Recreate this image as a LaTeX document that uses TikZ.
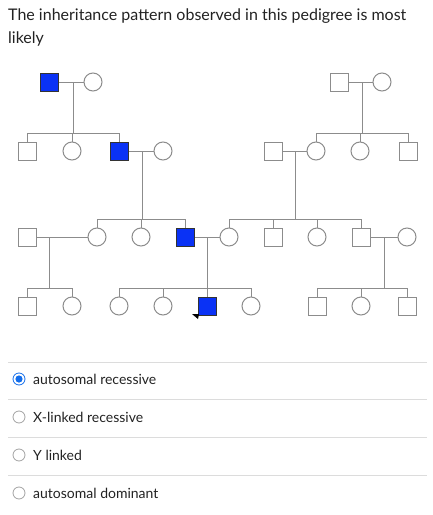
\documentclass[tikz,border=0pt]{standalone}
\usepackage{fontspec}
\setmainfont{Lato}
\usetikzlibrary{calc}
\definecolor{pline}{RGB}{140,140,140}
\definecolor{affblue}{RGB}{10,50,245}
\definecolor{sep}{RGB}{220,220,220}
\definecolor{txt}{RGB}{34,34,34}
\definecolor{radiob}{RGB}{20,110,235}
\tikzset{
  male/.style={draw=pline,line width=1pt,fill=white,rectangle,minimum size=18pt,inner sep=0pt},
  female/.style={draw=pline,line width=1pt,fill=white,circle,minimum size=18pt,inner sep=0pt},
  affected/.style={male,draw=black!80,fill=affblue},
  link/.style={draw=pline,line width=1pt},
  qtext/.style={anchor=base west,inner sep=0pt,text=txt,font=\fontsize{16}{19}\selectfont},
  opt/.style={anchor=west,inner sep=0pt,text=txt,font=\fontsize{14}{16}\selectfont},
  sepline/.style={draw=sep,line width=0.8pt},
  radio/.style={circle,draw=pline!80,line width=0.8pt,minimum size=12pt,inner sep=0pt,fill=white}
}
\begin{document}
\begin{tikzpicture}[x=1pt,y=-1pt]
\useasboundingbox (0,0) rectangle (432,515);
% question
\node[qtext] (q1) at (8,20) {The inheritance pattern observed in this pedigree is most};
\node[qtext] (q2) at (8,43) {likely};
% generation I
\node[affected] (A1) at (49,82) {};
\node[female] (A2) at (93,82) {};
\node[male] (B1) at (339,82) {};
\node[female] (B2) at (382,82) {};
% generation II
\node[male] (C1) at (27,151) {};
\node[female] (C2) at (72,151) {};
\node[affected] (C3) at (119,151) {};
\node[female] (C4) at (163,151) {};
\node[male] (D0) at (273,151) {};
\node[female] (D1) at (316,151) {};
\node[female] (D2) at (360,151) {};
\node[male] (D3) at (408,151) {};
% generation III
\node[male] (E0) at (27,237) {};
\node[female] (E1) at (97,237) {};
\node[female] (E2) at (141,237) {};
\node[affected] (E3) at (185,237) {};
\node[female] (E4) at (229,237) {};
\node[male] (E5) at (273,237) {};
\node[female] (E6) at (317,237) {};
\node[male] (E7) at (361,237) {};
\node[female] (E8) at (407,237) {};
% generation IV
\node[male] (F1) at (27,306) {};
\node[female] (F2) at (72,306) {};
\node[female] (G1) at (119,306) {};
\node[female] (G2) at (163,306) {};
\node[affected] (G3) at (207,306) {};
\node[female] (G4) at (251,306) {};
\node[male] (H1) at (317,306) {};
\node[female] (H2) at (361,306) {};
\node[male] (H3) at (407,306) {};
% marriage points and sibship levels
\coordinate (mA) at (73,82);   \coordinate (sA) at (73,133);
\coordinate (mB) at (362,82);  \coordinate (sB) at (362,133);
\coordinate (mC) at (142,151); \coordinate (sC) at (142,219);
\coordinate (mD) at (295,151); \coordinate (sD) at (295,219);
\coordinate (mE) at (49,237);  \coordinate (sE) at (49,288);
\coordinate (mF) at (207,237); \coordinate (sF) at (207,288);
\coordinate (mG) at (384,237); \coordinate (sG) at (384,288);
% marriages
\draw[link] (A1) -- (A2);
\draw[link] (B1) -- (B2);
\draw[link] (C3) -- (C4);
\draw[link] (D0) -- (D1);
\draw[link] (E0) -- (E1);
\draw[link] (E3) -- (E4);
\draw[link] (E7) -- (E8);
% descents
\draw[link] (mA) -- (sA);
\draw[link] (mB) -- (sB);
\draw[link] (mC) -- (sC);
\draw[link] (mD) -- (sD);
\draw[link] (mE) -- (sE);
\draw[link] (mF) -- (sF);
\draw[link] (mG) -- (sG);
% sibships
\draw[link] (C1 |- sA) -- (C3 |- sA);
\draw[link] (D1 |- sB) -- (D3 |- sB);
\draw[link] (E1 |- sC) -- (E3 |- sC);
\draw[link] (E4 |- sD) -- (E7 |- sD);
\draw[link] (F1 |- sE) -- (F2 |- sE);
\draw[link] (G1 |- sF) -- (G4 |- sF);
\draw[link] (H1 |- sG) -- (H3 |- sG);
% children
\foreach \c/\s in {C1/sA,C2/sA,C3/sA,D1/sB,D2/sB,D3/sB,E1/sC,E2/sC,E3/sC,E4/sD,E5/sD,E6/sD,E7/sD,F1/sE,F2/sE,G1/sF,G2/sF,G3/sF,G4/sF,H1/sG,H2/sG,H3/sG}
  \draw[link] (\c |- \s) -- (\c);
% small marker
\fill[black] (192,314) -- (199,314) -- (198,319) -- cycle;
% answer choices
\draw[sepline] (8,362) -- (427,362);
\draw[sepline] (8,399) -- (427,399);
\draw[sepline] (8,437) -- (427,437);
\draw[sepline] (8,475) -- (427,475);
\node[radio,draw=radiob,fill=white] (r1) at (19,379) {};
\fill[radiob] (r1.center) circle (3.6);
\node[radio] (r2) at (19,417) {};
\node[radio] (r3) at (19,455) {};
\node[radio] (r4) at (19,493) {};
\node[opt] (o1) at (33,379) {autosomal recessive};
\node[opt] (o2) at (33,417) {X-linked recessive};
\node[opt] (o3) at (33,455) {Y linked};
\node[opt] (o4) at (33,493) {autosomal dominant};
\end{tikzpicture}
\end{document}
